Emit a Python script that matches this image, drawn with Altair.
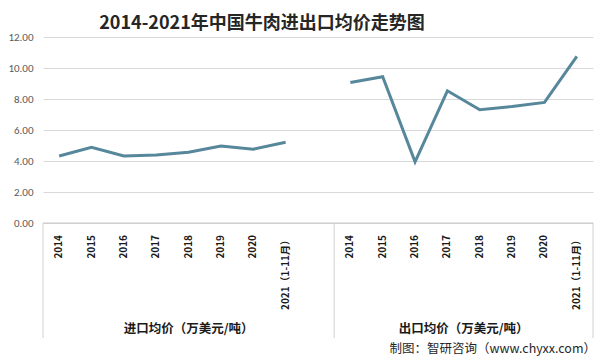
import altair as alt
import pandas as pd

years = ["2014", "2015", "2016", "2017", "2018", "2019", "2020", "2021（1-11月）"]
import_price = [4.32, 4.89, 4.32, 4.38, 4.57, 4.96, 4.76, 5.21]
export_price = [9.06, 9.44, 3.95, 8.53, 7.31, 7.52, 7.78, 10.75]
groups = ["进口均价（万美元/吨）", "出口均价（万美元/吨）"]
y_ticks = [0, 2, 4, 6, 8, 10, 12]
title_text = "2014-2021年中国牛肉进出口均价走势图"
source_text = "制图：智研咨询（www.chyxx.com）"

W, H = 550, 186
n = len(years)
gap = 1
starts = [0, n + gap]
total = 2 * n + gap

rows = []
for g, (name, vals) in enumerate(zip(groups, [import_price, export_price])):
    for i, (yr, v) in enumerate(zip(years, vals)):
        rows.append({"group": name, "year": yr, "pos": starts[g] + i + 0.5, "value": v})
df = pd.DataFrame(rows)

grp_df = pd.DataFrame({"group": groups,
                       "pos": [(starts[0] + starts[1]) / 2, (starts[1] + total) / 2]})
div_df = pd.DataFrame({"pos": [0, starts[1], total]})

xs = alt.Scale(domain=[0, total], nice=False, zero=False)
CJK = "Noto Sans CJK SC"
GRID = "#d9d9d9"

line = alt.Chart(df).mark_line(color="#56879b", strokeWidth=3).encode(
    x=alt.X("pos:Q", scale=xs, axis=None),
    y=alt.Y("value:Q", scale=alt.Scale(domain=[0, 12], nice=False),
            axis=alt.Axis(values=y_ticks, format=".2f", title=None, ticks=False,
                          domain=False, gridColor=GRID, labelColor="#595959",
                          labelFontSize=11, labelPadding=10,
                          labelFont="Carlito, Liberation Sans Narrow, Liberation Sans")),
    detail="group:N",
)

base_rule = alt.Chart(pd.DataFrame({"a": [0]})).mark_rule(color="#c8c8c8", strokeWidth=1).encode(
    x=alt.value(0), x2=alt.value(W), y=alt.value(H)
)

dividers = alt.Chart(div_df).mark_rule(color="#d0d0d0", strokeWidth=1).encode(
    x=alt.X("pos:Q", scale=xs, axis=None),
    y=alt.value(H), y2=alt.value(H + 115),
)

xlabels = alt.Chart(df).mark_text(angle=270, align="right", baseline="middle",
                                  fontWeight="bold", fontSize=10, font=CJK,
                                  color="#1a1a1a").encode(
    x=alt.X("pos:Q", scale=xs, axis=None),
    y=alt.value(H + 12),
    text="year:N",
)

glabels = alt.Chart(grp_df).mark_text(align="center", baseline="middle",
                                      fontWeight="bold", fontSize=12.5, font=CJK,
                                      color="#1a1a1a").encode(
    x=alt.X("pos:Q", scale=xs, axis=None),
    y=alt.value(H + 106),
    text="group:N",
)

title = alt.Chart(pd.DataFrame({"t": [title_text]})).mark_text(
    align="center", baseline="middle", fontWeight="bold", fontSize=18, font=CJK,
    color="#262626").encode(x=alt.value(219), y=alt.value(-13), text="t:N")

source = alt.Chart(pd.DataFrame({"t": [source_text]})).mark_text(
    align="right", baseline="middle", fontSize=12.5, font=CJK,
    color="#262626").encode(x=alt.value(553), y=alt.value(H + 126), text="t:N")

chart = alt.layer(line, base_rule, dividers, xlabels, glabels, title, source).properties(
    width=W, height=H,
    autosize=alt.AutoSizeParams(type="none"),
    padding={"left": 35, "top": 29, "right": 4, "bottom": 133},
    background="white",
).configure_view(stroke=None)

chart.save("out.html", embed_options={"renderer": "svg", "actions": False})
